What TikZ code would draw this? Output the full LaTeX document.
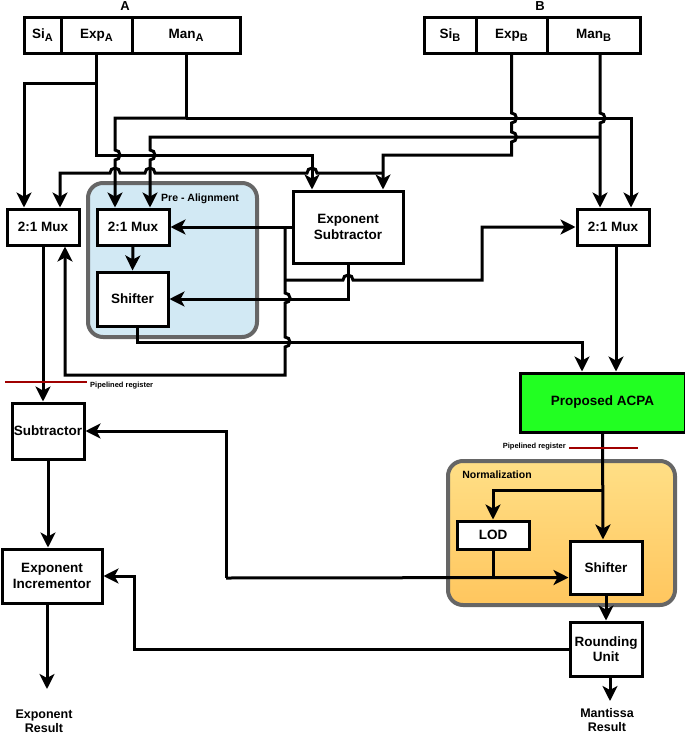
\documentclass[tikz,border=0pt]{standalone}
\usepackage{fontspec}
\setmainfont{Liberation Sans}
\usetikzlibrary{arrows.meta,positioning}
\definecolor{paleblue}{HTML}{D2E9F4}
\definecolor{normtop}{HTML}{FFDF86}
\definecolor{normbot}{HTML}{FFC65E}
\definecolor{acpagreen}{HTML}{22FF22}
\definecolor{grpgray}{HTML}{666666}
\definecolor{regred}{HTML}{A00000}
\newcommand{\opsub}[1]{\raisebox{-3pt}{\fontsize{11}{12}\selectfont #1}}
\begin{document}
\begin{tikzpicture}[x=1pt,y=-1pt,
  blk/.style={draw,line width=3pt,fill=white,align=center,inner sep=1pt,font=\bfseries\fontsize{13.5}{15.5}\selectfont},
  grp/.style={draw=grpgray,line width=4pt,rounded corners=15pt},
  wire/.style={line width=3pt},
  arr/.style={wire,-{Stealth[length=15pt,width=15pt,inset=4pt]}},
  preg/.style={line width=2.4pt,draw=regred},
  lbl/.style={font=\bfseries\fontsize{13}{15}\selectfont,align=center},
  small/.style={font=\bfseries\fontsize{7.5}{9}\selectfont,inner sep=0pt}]
\useasboundingbox (0,0) rectangle (685,734);

% group backgrounds
\node (pre) at (172.5,260) [grp,fill=paleblue,minimum width=169pt,minimum height=154pt]{};
\node (norm) at (561.5,533) [grp,top color=normtop,bottom color=normbot,minimum width=227pt,minimum height=144pt]{};
\node (prelbl) at (200,199) [font=\bfseries\fontsize{10.5}{12}\selectfont,inner sep=0pt]{Pre - Alignment};
\node (normlbl) at (497,475) [font=\bfseries\fontsize{10.5}{12}\selectfont,inner sep=0pt]{Normalization};

% operand registers
\node (labA) at (125,6) [lbl]{A};
\node (siA) at (42.5,35) [blk,minimum width=37pt,minimum height=36pt]{Si\opsub{A}};
\node (expA) at (96.5,35) [blk,minimum width=71pt,minimum height=36pt]{Exp\opsub{A}};
\node (manA) at (186,35) [blk,minimum width=108pt,minimum height=36pt]{Man\opsub{A}};
\node (labB) at (540,6) [lbl]{B};
\node (siB) at (450,35) [blk,minimum width=52pt,minimum height=36pt]{Si\opsub{B}};
\node (expB) at (511.5,35) [blk,minimum width=71pt,minimum height=36pt]{Exp\opsub{B}};
\node (manB) at (593.5,35) [blk,minimum width=93pt,minimum height=36pt]{Man\opsub{B}};

% blocks
\node (lmux) at (43,227) [blk,minimum width=72pt,minimum height=36pt]{2:1 Mux};
\node (pmux) at (133,227) [blk,minimum width=72pt,minimum height=36pt]{2:1 Mux};
\node (pshift) at (132.5,299) [blk,minimum width=71pt,minimum height=54pt]{Shifter};
\node (expsub) at (348,227) [blk,minimum width=110pt,minimum height=72pt]{Exponent\\Subtractor};
\node (rmux) at (613,227) [blk,minimum width=72pt,minimum height=36pt]{2:1 Mux};
\node (acpa) at (602.5,402.5) [blk,fill=acpagreen,minimum width=165pt,minimum height=59pt]{Proposed ACPA};
\node (subtr) at (48,431) [blk,minimum width=72pt,minimum height=56pt]{Subtractor};
\node (expinc) at (52,576) [blk,minimum width=100pt,minimum height=54pt]{Exponent\\Incrementor};
\node (lod) at (493,535) [blk,minimum width=72pt,minimum height=28pt]{LOD};
\node (nshift) at (606,567.5) [blk,minimum width=72pt,minimum height=53pt]{Shifter};
\node (round) at (606,649) [blk,minimum width=72pt,minimum height=54pt]{Rounding\\Unit};

% exponents
\draw[arr] (expA.south) -- (96.5,155) -- (312,155) -- ([xshift=-36pt]expsub.north);
\draw[arr] (96.5,83) -- (24,83) -- ([xshift=-19pt]lmux.north);
\draw[arr] (expB.south) -- (511.5,113) arc[start angle=90,end angle=-90,radius=5pt]
  -- (511.5,132) arc[start angle=90,end angle=-90,radius=5pt]
  -- (511.5,155) -- (383,155) -- ([xshift=35pt]expsub.north);
\draw[arr] (383,173) -- (317,173) arc[start angle=0,end angle=180,radius=5pt]
  -- (155,173) arc[start angle=0,end angle=180,radius=5pt]
  -- (120,173) arc[start angle=0,end angle=180,radius=5pt]
  -- (60,173) -- ([xshift=17pt]lmux.north);

% mantissas
\draw[wire] (manA.south) -- (186,118);
\draw[arr] (186,118) -- (115,118) -- (115,150) arc[start angle=90,end angle=-90,radius=5pt]
  -- ([xshift=-18pt]pmux.north);
\draw[arr] (186,118) -- (631,118) -- ([xshift=18pt]rmux.north);
\draw[arr] ([xshift=6.5pt]manB.south) -- (600,113) arc[start angle=90,end angle=-90,radius=5pt]
  -- ([xshift=-13pt]rmux.north);
\draw[arr] (600,137) -- (150,137) -- (150,150) arc[start angle=90,end angle=-90,radius=5pt]
  -- ([xshift=17pt]pmux.north);

% exponent subtractor outputs
\draw[arr] (expsub.west) -- (pmux.east);
\draw[arr] (285,227) -- (285,293) arc[start angle=90,end angle=-90,radius=5pt]
  -- (285,337) arc[start angle=90,end angle=-90,radius=5pt]
  -- (285,375) -- (65,375) -- ([xshift=22pt]lmux.south);
\draw[arr] (285,280) -- (343,280) arc[start angle=180,end angle=0,radius=5pt]
  -- (482,280) -- (482,227) -- (rmux.west);
\draw[arr] (expsub.south) -- (348,299) -- (pshift.east);
\draw[arr] (pmux.south) -- (pshift.north);
\draw[arr] ([xshift=4.5pt]pshift.south) -- (137,342) -- (582,342) -- ([xshift=-20.5pt]acpa.north);
\draw[arr] ([xshift=3pt]rmux.south) -- ([xshift=13.5pt]acpa.north);

% exponent path
\draw[arr] (lmux.south) -- ([xshift=-5pt]subtr.north);
\draw[preg] (5,382) -- (87,382);
\node (reg1) at (90,386) [small,anchor=west]{Pipelined register};
\draw[arr] (subtr.south) -- ([xshift=-4pt]expinc.north);
\coordinate (expout) at (47,689);
\draw[arr] ([xshift=-5pt]expinc.south) -- (expout);
\node (expres) at (44,721) [lbl,inner sep=0pt,font=\bfseries\fontsize{12.5}{14}\selectfont]{Exponent\\Result};

% mantissa path
\draw[arr] (acpa.south) -- ([xshift=-3pt]nshift.north);
\draw[preg] (569,448) -- (638,448);
\node (reg2) at (566,447) [small,anchor=east]{Pipelined register};
\draw[arr] (602.5,490) -- (493,490) -- (lod.north);
\draw[wire] (lod.south) -- (493,578);
\draw[arr] (226,578) -- ([yshift=-10pt]nshift.west);
\draw[arr] (226,578) -- (226,431) -- (subtr.east);
\draw[arr] (nshift.south) -- (round.north);
\draw[arr] (round.west) -- (134,649) -- (134,576) -- (expinc.east);
\coordinate (manout) at (610,701);
\draw[arr] ([xshift=4pt]round.south) -- (manout);
\node (manres) at (607,720) [lbl,inner sep=0pt,font=\bfseries\fontsize{12.5}{14}\selectfont]{Mantissa\\Result};
\end{tikzpicture}
\end{document}
